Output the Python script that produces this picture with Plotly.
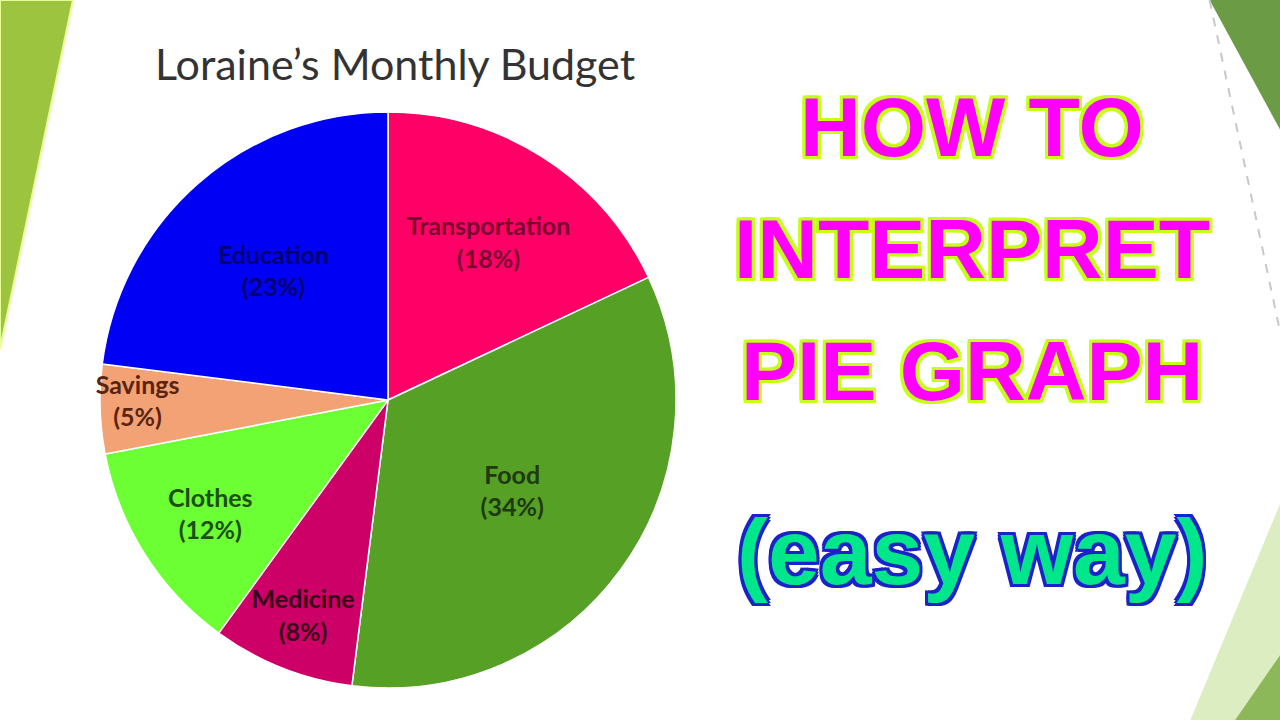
import plotly.graph_objects as go

# data, read clockwise from 12 o'clock
categories = ["Transportation", "Food", "Medicine", "Clothes", "Savings", "Education"]
shares = [18, 34, 8, 12, 5, 23]
slice_colors = ["#FF0066", "#55A025", "#CC0066", "#6CFF33", "#F2A274", "#0000F5"]
text_colors = ["#7A0030", "#1E3A0E", "#3A0018", "#1D5010", "#5A2410", "#000070"]

title_text = "Loraine’s Monthly Budget"
headline = ["HOW TO", "INTERPRET", "PIE GRAPH"]
subline = "(easy way)"


def outline(color, w):
    # fake a text stroke with several css shadows
    offs = [(-w, -w), (w, -w), (-w, w), (w, w), (0, w), (0, -w), (w, 0), (-w, 0)]
    return ", ".join(f"{x}px {y}px 0 {color}" for x, y in offs)


fig = go.Figure(go.Pie(
    labels=categories,
    values=shares,
    sort=False,
    direction="clockwise",
    rotation=0,
    marker=dict(colors=slice_colors, line=dict(color="white", width=1.5)),
    texttemplate="%{label}<br>(%{value}%)",
    textposition="inside",
    insidetextorientation="horizontal",
    textfont=dict(family="Lato", size=25, color=text_colors, weight="bold"),
    hoverinfo="label+percent",
    showlegend=False,
    domain=dict(x=[100 / 1280, 676 / 1280], y=[32 / 720, 608 / 720]),
))

# background decoration (slide theme)
fig.add_shape(type="path", xref="paper", yref="paper",
              path="M 0 1 L 0.057 1 L 0 0.515 Z",
              fillcolor="#9DC43F", line=dict(color="#E6FF99", width=2), layer="below")
fig.add_shape(type="path", xref="paper", yref="paper",
              path="M 0.945 1 L 1 1 L 1 0.82 Z",
              fillcolor="#6C9B45", line=dict(width=0), layer="below")
fig.add_shape(type="line", xref="paper", yref="paper",
              x0=0.945, y0=1, x1=1, y1=0.54,
              line=dict(color="#C8C8C8", width=2, dash="dash"), layer="below")
fig.add_shape(type="path", xref="paper", yref="paper",
              path="M 1 0.3 L 1 0 L 0.93 0 Z",
              fillcolor="#DCEDC2", line=dict(width=0), layer="below")
fig.add_shape(type="path", xref="paper", yref="paper",
              path="M 1 0.09 L 1 0 L 0.965 0 Z",
              fillcolor="#8DB85A", line=dict(width=0), layer="below")

fig.add_annotation(text=title_text, xref="paper", yref="paper",
                   x=395 / 1280, y=1 - 63 / 720, xanchor="center", yanchor="middle",
                   showarrow=False,
                   font=dict(family="Lato", size=43, color="#333333"))

for i, line in enumerate(headline):
    fig.add_annotation(text=f"<b>{line}</b>", xref="paper", yref="paper",
                       x=972 / 1280, y=1 - (127 + i * 122) / 720,
                       xanchor="center", yanchor="middle", showarrow=False,
                       font=dict(family="Liberation Sans", size=84, color="#FF00FF",
                                 shadow=outline("#C6FF1A", 3)))

fig.add_annotation(text=f"<b>{subline}</b>", xref="paper", yref="paper",
                   x=972 / 1280, y=1 - 552 / 720,
                   xanchor="center", yanchor="middle", showarrow=False,
                   font=dict(family="Liberation Sans", size=93, color="#00E68A",
                             shadow=outline("#1B22C8", 3)))

fig.update_layout(
    width=1280, height=720,
    margin=dict(l=0, r=0, t=0, b=0),
    paper_bgcolor="white",
    uniformtext=dict(minsize=25, mode="show"),
)

fig.write_html("out.html", config={"displayModeBar": False},
               post_script="document.body.style.margin='0';")
